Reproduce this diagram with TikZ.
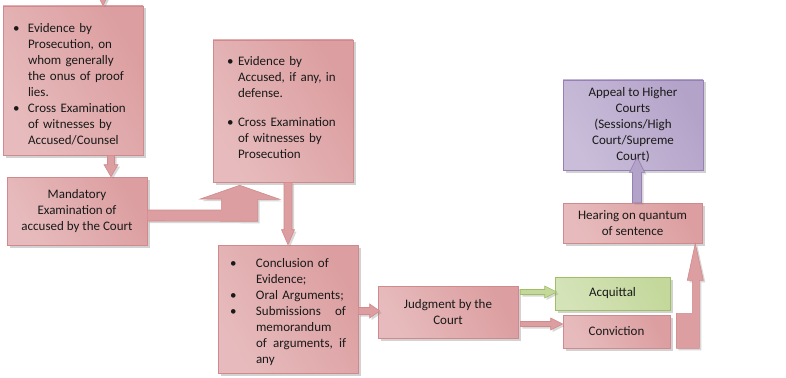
\documentclass[tikz,border=0pt]{standalone}
\usepackage{fontspec}
\setmainfont{Carlito}
\usetikzlibrary{calc,shadows}

\definecolor{pinkD}{RGB}{220,158,160}
\definecolor{pinkL}{RGB}{247,231,232}
\definecolor{pinkB}{RGB}{208,138,140}
\definecolor{greenD}{RGB}{196,216,156}
\definecolor{greenL}{RGB}{238,244,226}
\definecolor{greenB}{RGB}{160,190,100}
\definecolor{purpD}{RGB}{180,163,201}
\definecolor{purpL}{RGB}{233,228,241}
\definecolor{purpB}{RGB}{150,128,182}

% bullet item with hanging lines
\newcommand{\bul}[1]{\par\noindent\hangindent=#1\hangafter=1\makebox[#1][l]{\textbullet}\ignorespaces}

% straight block arrow: colours, from, to, half shaft, half head, head length
\newcommand{\blockarr}[6]{%
    \coordinate (h) at ($(#3)!#6!(#2)$);
    \path[arr=#1] ($(#2)!#4!90:(#3)$) -- ($(h)!#4!90:(#3)$) -- ($(h)!#5!90:(#3)$) -- (#3)
        -- ($(h)!#5!-90:(#3)$) -- ($(h)!#4!-90:(#3)$) -- ($(#2)!#4!-90:(#3)$) -- cycle;
}

\begin{document}
\begin{tikzpicture}[x=1pt, y=-1pt,
        box/.style={draw=#1B, line width=0.6pt, left color=#1D!60!#1L, middle color=#1L, right color=#1D,
            shading angle=120, drop shadow={opacity=0.35, shadow xshift=2.5pt, shadow yshift=-2.5pt},
            text=black!90, font=\fontsize{13}{16}\selectfont},
        arr/.style={draw=#1B, line width=0.6pt, left color=#1D, middle color=#1L, right color=#1D,
            shading angle=0, drop shadow={opacity=0.3, shadow xshift=2pt, shadow yshift=-2pt}}]
    \useasboundingbox (0,0) rectangle (786,377);
    \fill[white] (0,0) rectangle (786,377);
    \clip (0,0) rectangle (786,377);
    % boxes
        \node[box=pink, inner xsep=10pt, text width=120pt, minimum height=149pt] (pros) at (73,80.5)
            {\bul{15pt}Evidence by\newline Prosecution, on\newline whom generally\newline the onus of proof\newline lies.%
             \bul{15pt}Cross Examination\newline of witnesses by\newline Accused/Counsel\par};
        \node[box=pink, minimum width=140pt, minimum height=68pt, align=center] (mand) at (77,211)
            {Mandatory\\Examination of\\accused by the Court};
        \node[box=pink, inner xsep=14pt, text width=112pt, minimum height=142pt] (acc) at (283,111)
            {\bul{11pt}Evidence by\newline Accused, if any, in\newline defense.\par\vspace{13pt}%
             \bul{11pt}Cross Examination\newline of witnesses by\newline Prosecution\par\vspace*{13pt}};
        \node[box=pink, inner xsep=12pt, text width=116pt, minimum height=128pt] (concl) at (288,309)
            {\bul{26pt}Conclusion of\newline Evidence;\bul{26pt}Oral Arguments;%
             \bul{26pt}Submissions\hfill of\newline memorandum\newline of\hfill arguments,\hfill if\newline any\par};
        \node[box=pink, minimum width=140pt, minimum height=52pt, align=center] (judg) at (448,312)
            {Judgment by the\\Court};
        \node[box=green, minimum width=115pt, minimum height=33pt] (acq) at (612.5,293.5) {Acquittal};
        \node[box=pink, minimum width=107pt, minimum height=33pt] (conv) at (616.5,331.5) {Conviction};
        \node[box=pink, minimum width=139pt, minimum height=40pt, align=center] (hear) at (632.5,223)
            {Hearing on quantum\\of sentence};
        \node[box=purp, minimum width=140pt, minimum height=90pt, align=center] (appeal) at (633,125)
            {Appeal to Higher\\Courts\\(Sessions/High\\Court/Supreme\\Court)};
    % straight arrows
        \coordinate (t0) at ($(pros.north)+(30,-30)$);
        \coordinate (t1) at ($(pros.north)+(30,0)$);
        \coordinate (a0) at ($(pros.south)+(38,0)$);
        \coordinate (a1) at (a0 |- mand.north);
        \coordinate (b0) at ($(acc.south)+(5,0)$);
        \coordinate (b1) at (b0 |- concl.north);
        \coordinate (c0) at ($(concl.east)+(0,2)$);
        \coordinate (c1) at ($(c0 -| judg.west)+(2,0)$);
        \coordinate (d0) at ($(judg.east)+(2,-20)$);
        \coordinate (d1) at ($(d0 -| acq.west)+(2,0)$);
        \coordinate (e0) at ($(judg.east)+(2,12)$);
        \coordinate (e1) at (e0 -| conv.west);
        \coordinate (f0) at ($(hear.north)+(4.5,0)$);
        \coordinate (f1) at ($(f0 |- appeal.south)+(0,-13)$);
        \foreach \c/\s/\e/\w/\hw/\hl in {pink/t0/t1/3.5pt/7pt/14pt, pink/a0/a1/3.5pt/7pt/12pt,
                pink/b0/b1/4pt/6.5pt/15pt, pink/c0/c1/3.5pt/7pt/10pt, green/d0/d1/2.5pt/6pt/12pt,
                pink/e0/e1/2.5pt/6pt/12pt, purp/f0/f1/4.5pt/7.5pt/15pt}{
            \blockarr{\c}{\s}{\e}{\w}{\hw}{\hl}
        }
    % bent arrows
        \path[arr=pink] ($(mand.east)+(0,-1)$) -- ++(74,0) -- ++(0,-11) -- ++(-21,0)
            -- ($(acc.south west)+(27,3)$) -- ++(40,14) -- ++(-22,0) -- ++(0,22)
            -- ($(mand.east)+(0,10)$) -- cycle;
        \path[arr=pink] ($(conv.south east)+(6,0)$) -- ++(0,-35) -- ++(16,0) -- ++(0,-33) -- ++(-5,0)
            -- ($(hear.south east)+(-7,0)$) -- ++(8,37) -- ++(-4,0) -- ++(0,68) -- cycle;
\end{tikzpicture}
\end{document}
